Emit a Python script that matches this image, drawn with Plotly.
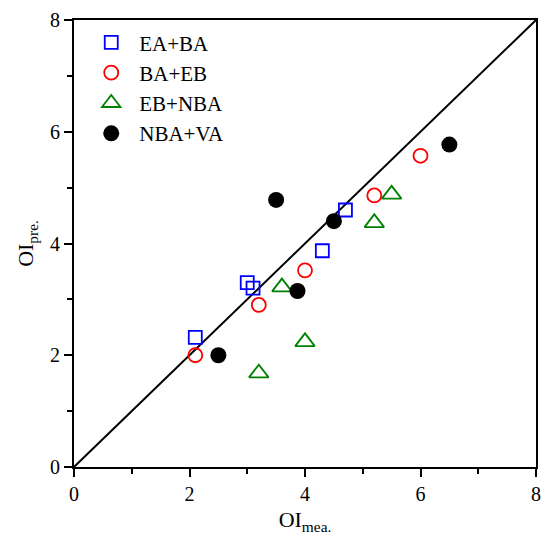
import plotly.graph_objects as go

# measured vs predicted OI for each combination
ea_ba_x = [2.1, 3.0, 3.1, 4.3, 4.7]
ea_ba_y = [2.32, 3.3, 3.2, 3.87, 4.6]

ba_eb_x = [2.1, 3.2, 4.0, 5.2, 6.0]
ba_eb_y = [2.0, 2.9, 3.52, 4.86, 5.57]

eb_nba_x = [3.2, 4.0, 3.6, 5.2, 5.5]
eb_nba_y = [1.68, 2.24, 3.22, 4.37, 4.88]

nba_va_x = [2.5, 3.87, 3.5, 4.5, 6.5]
nba_va_y = [2.0, 3.15, 4.78, 4.4, 5.77]

line_x = [0, 8]
line_y = [0, 8]

font_family = "Liberation Serif"

fig = go.Figure()

# 1:1 line
fig.add_trace(go.Scatter(
    x=line_x, y=line_y, mode="lines",
    line=dict(color="black", width=2),
    showlegend=False, hoverinfo="skip"
))

fig.add_trace(go.Scatter(
    x=ea_ba_x, y=ea_ba_y, mode="markers", name="EA+BA",
    marker=dict(symbol="square-open", size=13, color="blue", line=dict(width=1.8))
))
fig.add_trace(go.Scatter(
    x=ba_eb_x, y=ba_eb_y, mode="markers", name="BA+EB",
    marker=dict(symbol="circle-open", size=14, color="red", line=dict(width=1.8))
))
fig.add_trace(go.Scatter(
    x=eb_nba_x, y=eb_nba_y, mode="markers", name="EB+NBA",
    marker=dict(symbol="triangle-up-open", size=17, color="green", line=dict(width=1.8))
))
fig.add_trace(go.Scatter(
    x=nba_va_x, y=nba_va_y, mode="markers", name="NBA+VA",
    marker=dict(symbol="circle", size=16, color="black")
))

fig.update_xaxes(
    range=[0, 8], dtick=2,
    showgrid=False, zeroline=False,
    showline=True, linecolor="black", linewidth=2, mirror=True,
    ticks="outside", ticklen=8, tickwidth=2, tickcolor="black",
    minor=dict(ticks="outside", ticklen=5, tickwidth=2, tickcolor="black", dtick=1),
    tickfont=dict(family=font_family, size=20, color="black"),
    title=dict(text="OI<sub>mea.</sub>", font=dict(family=font_family, size=22, color="black"), standoff=8),
)
fig.update_yaxes(
    range=[0, 8], dtick=2,
    showgrid=False, zeroline=False,
    showline=True, linecolor="black", linewidth=2, mirror=True,
    ticks="outside", ticklen=8, tickwidth=2, tickcolor="black",
    minor=dict(ticks="outside", ticklen=5, tickwidth=2, tickcolor="black", dtick=1),
    tickfont=dict(family=font_family, size=20, color="black"),
    title=dict(text="OI<sub>pre.</sub>", font=dict(family=font_family, size=22, color="black"), standoff=10),
)

fig.update_layout(
    width=550,
    height=549,
    margin=dict(l=74, r=9, t=16, b=82),
    template="simple_white",
    plot_bgcolor="white",
    paper_bgcolor="white",
    font=dict(family=font_family, color="black"),
    legend=dict(
        x=0.02, y=0.995, xanchor="left", yanchor="top",
        font=dict(family=font_family, size=21, color="black"),
        bgcolor="rgba(0,0,0,0)",
        itemwidth=46,
        tracegroupgap=0,
    ),
)

fig.write_html("out.html", config={"displayModeBar": False},
               post_script="document.body.style.margin='0';")
